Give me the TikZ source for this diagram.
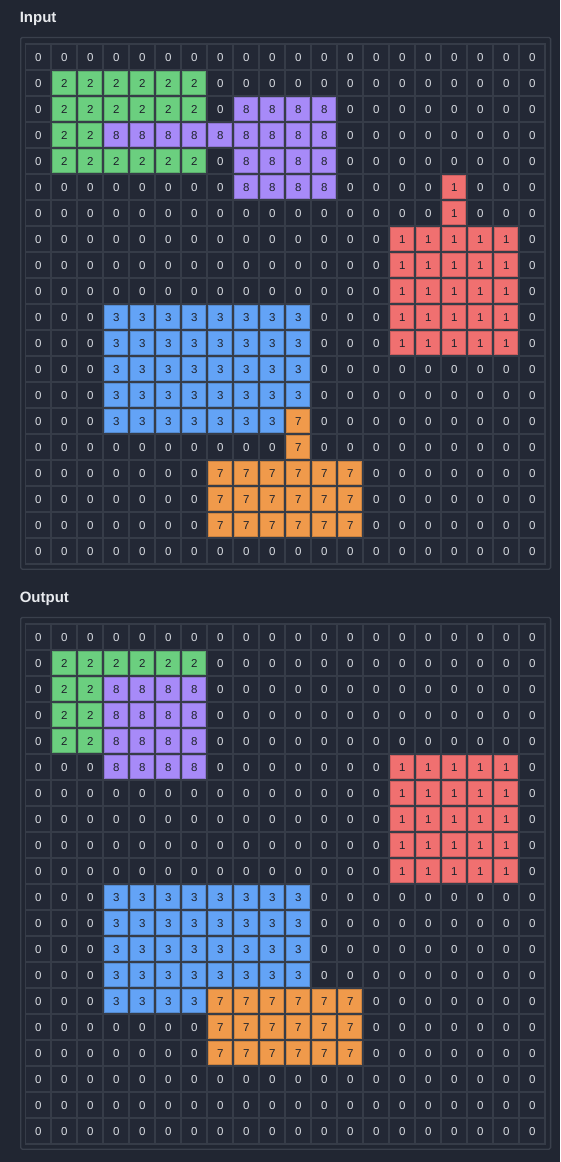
\documentclass[tikz,border=0pt]{standalone}
\usepackage{fontspec}
\setmainfont{Liberation Sans}
\definecolor{bg}{HTML}{212632}
\definecolor{framec}{HTML}{3A404C}
\definecolor{gapc}{HTML}{363C48}
\definecolor{zeroc}{HTML}{232835}
\definecolor{ztext}{HTML}{D9DCE2}
\definecolor{dtext}{HTML}{1E222C}
\definecolor{titlec}{HTML}{E8EAEE}
\definecolor{c1}{HTML}{F07070}
\definecolor{c2}{HTML}{6BCF7F}
\definecolor{c3}{HTML}{63A3F6}
\definecolor{c7}{HTML}{F09A4B}
\definecolor{c8}{HTML}{A78AF8}
\tikzset{
  cellbase/.style={minimum size=23pt, inner sep=0pt, line width=0.7pt,
    font=\fontsize{11.5}{11.5}\selectfont},
  v0/.style={cellbase, fill=zeroc, draw=zeroc, text=ztext},
  v1/.style={cellbase, fill=c1, draw=c1!85!black, text=dtext},
  v2/.style={cellbase, fill=c2, draw=c2!85!black, text=dtext},
  v3/.style={cellbase, fill=c3, draw=c3!85!black, text=dtext},
  v7/.style={cellbase, fill=c7, draw=c7!85!black, text=dtext},
  v8/.style={cellbase, fill=c8, draw=c8!85!black, text=dtext},
  titlelabel/.style={anchor=west, inner sep=0pt, text=titlec,
    font=\fontsize{15}{15}\selectfont\bfseries},
  outerframe/.style={draw=framec, line width=1.3pt, rounded corners=1.5pt},
  gridback/.style={fill=gapc}
}
\def\inputrows{%
{0,0,0,0,0,0,0,0,0,0,0,0,0,0,0,0,0,0,0,0},%
{0,2,2,2,2,2,2,0,0,0,0,0,0,0,0,0,0,0,0,0},%
{0,2,2,2,2,2,2,0,8,8,8,8,0,0,0,0,0,0,0,0},%
{0,2,2,8,8,8,8,8,8,8,8,8,0,0,0,0,0,0,0,0},%
{0,2,2,2,2,2,2,0,8,8,8,8,0,0,0,0,0,0,0,0},%
{0,0,0,0,0,0,0,0,8,8,8,8,0,0,0,0,1,0,0,0},%
{0,0,0,0,0,0,0,0,0,0,0,0,0,0,0,0,1,0,0,0},%
{0,0,0,0,0,0,0,0,0,0,0,0,0,0,1,1,1,1,1,0},%
{0,0,0,0,0,0,0,0,0,0,0,0,0,0,1,1,1,1,1,0},%
{0,0,0,0,0,0,0,0,0,0,0,0,0,0,1,1,1,1,1,0},%
{0,0,0,3,3,3,3,3,3,3,3,0,0,0,1,1,1,1,1,0},%
{0,0,0,3,3,3,3,3,3,3,3,0,0,0,1,1,1,1,1,0},%
{0,0,0,3,3,3,3,3,3,3,3,0,0,0,0,0,0,0,0,0},%
{0,0,0,3,3,3,3,3,3,3,3,0,0,0,0,0,0,0,0,0},%
{0,0,0,3,3,3,3,3,3,3,7,0,0,0,0,0,0,0,0,0},%
{0,0,0,0,0,0,0,0,0,0,7,0,0,0,0,0,0,0,0,0},%
{0,0,0,0,0,0,0,7,7,7,7,7,7,0,0,0,0,0,0,0},%
{0,0,0,0,0,0,0,7,7,7,7,7,7,0,0,0,0,0,0,0},%
{0,0,0,0,0,0,0,7,7,7,7,7,7,0,0,0,0,0,0,0},%
{0,0,0,0,0,0,0,0,0,0,0,0,0,0,0,0,0,0,0,0}}
\def\outputrows{%
{0,0,0,0,0,0,0,0,0,0,0,0,0,0,0,0,0,0,0,0},%
{0,2,2,2,2,2,2,0,0,0,0,0,0,0,0,0,0,0,0,0},%
{0,2,2,8,8,8,8,0,0,0,0,0,0,0,0,0,0,0,0,0},%
{0,2,2,8,8,8,8,0,0,0,0,0,0,0,0,0,0,0,0,0},%
{0,2,2,8,8,8,8,0,0,0,0,0,0,0,0,0,0,0,0,0},%
{0,0,0,8,8,8,8,0,0,0,0,0,0,0,1,1,1,1,1,0},%
{0,0,0,0,0,0,0,0,0,0,0,0,0,0,1,1,1,1,1,0},%
{0,0,0,0,0,0,0,0,0,0,0,0,0,0,1,1,1,1,1,0},%
{0,0,0,0,0,0,0,0,0,0,0,0,0,0,1,1,1,1,1,0},%
{0,0,0,0,0,0,0,0,0,0,0,0,0,0,1,1,1,1,1,0},%
{0,0,0,3,3,3,3,3,3,3,3,0,0,0,0,0,0,0,0,0},%
{0,0,0,3,3,3,3,3,3,3,3,0,0,0,0,0,0,0,0,0},%
{0,0,0,3,3,3,3,3,3,3,3,0,0,0,0,0,0,0,0,0},%
{0,0,0,3,3,3,3,3,3,3,3,0,0,0,0,0,0,0,0,0},%
{0,0,0,3,3,3,3,7,7,7,7,7,7,0,0,0,0,0,0,0},%
{0,0,0,0,0,0,0,7,7,7,7,7,7,0,0,0,0,0,0,0},%
{0,0,0,0,0,0,0,7,7,7,7,7,7,0,0,0,0,0,0,0},%
{0,0,0,0,0,0,0,0,0,0,0,0,0,0,0,0,0,0,0,0},%
{0,0,0,0,0,0,0,0,0,0,0,0,0,0,0,0,0,0,0,0},%
{0,0,0,0,0,0,0,0,0,0,0,0,0,0,0,0,0,0,0,0}}
\begin{document}
\begin{tikzpicture}[x=1pt,y=-1pt]
\fill[bg] (0,0) rectangle (560,1162);
\useasboundingbox (0,0) rectangle (560,1162);
% Input panel
\node[titlelabel] (intitle) at (19.6,18.5) {Input};
\draw[outerframe] (20.7,37.4) rectangle (550.6,569.2);
\fill[gridback] (24.6,42.6) rectangle (545.6,565.2);
\foreach \rowlist [count=\r from 0] in \inputrows {
  \foreach \v [count=\c from 0] in \rowlist {
    \node[v\v] (in-\r-\c) at ({38.2+26*\c},{57.2+26*\r}) {\v};
  }
}
% Output panel
\node[titlelabel] (outtitle) at (19.6,598.5) {Output};
\draw[outerframe] (20.7,617.4) rectangle (550.6,1149.2);
\fill[gridback] (24.6,622.6) rectangle (545.6,1145.2);
\foreach \rowlist [count=\r from 0] in \outputrows {
  \foreach \v [count=\c from 0] in \rowlist {
    \node[v\v] (out-\r-\c) at ({38.2+26*\c},{637.2+26*\r}) {\v};
  }
}
\end{tikzpicture}
\end{document}
